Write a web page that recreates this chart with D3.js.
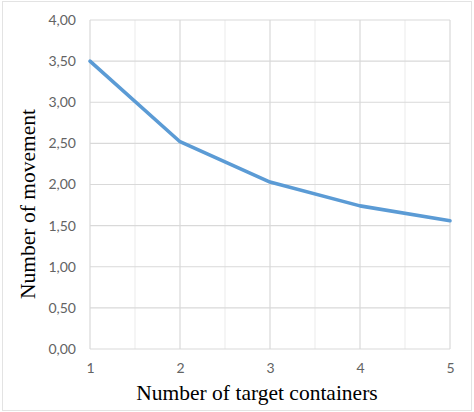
<!DOCTYPE html>
<html>
<head>
<meta charset="utf-8">
<script src="https://cdn.jsdelivr.net/npm/d3@7"></script>
<style>
  body { margin: 0; background: #fff; }
  .tick text { font-family: Lato, "Liberation Sans", sans-serif; font-size: 14px; fill: #636363; }
  .axis-title { font-family: "Liberation Serif", "Times New Roman", serif; font-size: 21.5px; fill: #000; }
</style>
</head>
<body>
<svg id="chart"></svg>
<script>
// chart data
const containers = [1, 2, 3, 4, 5];
const movements = [3.50, 2.52, 2.03, 1.74, 1.56];
const yTicks = [0, 0.5, 1, 1.5, 2, 2.5, 3, 3.5, 4];
const xMinorTicks = [1.5, 2.5, 3.5, 4.5];

const width = 474, height = 412;
const margin = { top: 20, right: 24, bottom: 63, left: 90 };
const innerW = width - margin.left - margin.right;
const innerH = height - margin.top - margin.bottom;

const svg = d3.select("#chart").attr("width", width).attr("height", height);

// light frame round the picture
svg.append("rect")
    .attr("x", 2.5).attr("y", 1.5)
    .attr("width", width - 5).attr("height", height - 3)
    .attr("fill", "none")
    .attr("stroke", "#e3e3e3");

const chart = svg.append("g")
    .attr("transform", `translate(${margin.left},${margin.top})`);

const xScale = d3.scaleLinear().domain([1, 5]).range([0, innerW]);
const yScale = d3.scaleLinear().domain([0, 4]).range([innerH, 0]);

// minor vertical gridlines
chart.selectAll(".minor-grid")
    .data(xMinorTicks)
    .join("line")
    .attr("class", "minor-grid")
    .attr("x1", d => xScale(d)).attr("x2", d => xScale(d))
    .attr("y1", 0).attr("y2", innerH)
    .attr("stroke", "#eeeeee").attr("stroke-width", 1.2);

// horizontal gridlines
chart.selectAll(".h-grid")
    .data(yTicks)
    .join("line")
    .attr("class", "h-grid")
    .attr("x1", 0).attr("x2", innerW)
    .attr("y1", d => yScale(d)).attr("y2", d => yScale(d))
    .attr("stroke", "#d9d9d9").attr("stroke-width", 1.2);

// major vertical gridlines
chart.selectAll(".v-grid")
    .data(containers)
    .join("line")
    .attr("class", "v-grid")
    .attr("x1", d => xScale(d)).attr("x2", d => xScale(d))
    .attr("y1", 0).attr("y2", innerH)
    .attr("stroke", "#d9d9d9").attr("stroke-width", 1.2);

const fmt = d => d3.format(".2f")(d).replace(".", ",");

const yAxis = d3.axisLeft(yScale).tickValues(yTicks).tickFormat(fmt).tickSize(0).tickPadding(14);
const xAxis = d3.axisBottom(xScale).tickValues(containers).tickFormat(d3.format("d")).tickSize(0).tickPadding(14);

chart.append("g").attr("class", "axis y-axis").call(yAxis)
    .call(g => g.select(".domain").remove());
chart.append("g").attr("class", "axis x-axis")
    .attr("transform", `translate(0,${innerH})`)
    .call(xAxis)
    .call(g => g.select(".domain").remove());

// the line
const line = d3.line()
    .x((d, i) => xScale(containers[i]))
    .y(d => yScale(d));

chart.append("path")
    .datum(movements)
    .attr("fill", "none")
    .attr("stroke", "#5b9bd5")
    .attr("stroke-width", 3.6)
    .attr("stroke-linejoin", "round")
    .attr("stroke-linecap", "round")
    .attr("d", line);

// axis titles
svg.append("text")
    .attr("class", "axis-title")
    .attr("x", 257)
    .attr("y", 400)
    .attr("text-anchor", "middle")
    .text("Number of target containers");

svg.append("text")
    .attr("class", "axis-title")
    .attr("transform", `translate(35,${204}) rotate(-90)`)
    .attr("text-anchor", "middle")
    .text("Number of movement");
</script>
</body>
</html>
